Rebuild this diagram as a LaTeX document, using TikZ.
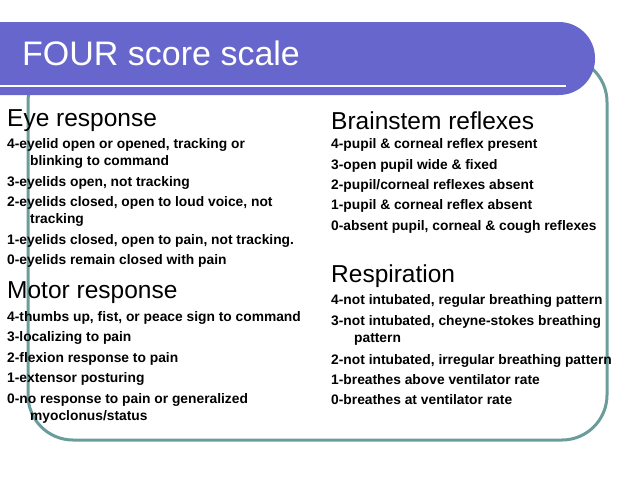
\documentclass[tikz,border=0pt]{standalone}
\usepackage{fontspec}
\setmainfont{Liberation Sans}
\definecolor{ban}{HTML}{6666CC}
\definecolor{teal2}{HTML}{6A9C9C}
\begin{document}
\begin{tikzpicture}[x=1pt,y=-1pt,
 head/.style={anchor=west,inner sep=0,font=\fontsize{24.5}{26}\selectfont},
 item/.style={anchor=north west,inner sep=0,font=\fontsize{13.8}{17}\selectfont\bfseries,align=left}]
\useasboundingbox (0,0) rectangle (638,479);
\draw[teal2,line width=3pt,rounded corners=45pt] (28,57) rectangle (607,440);
\fill[ban,rounded corners=36pt] (-40,22) rectangle (595,95);
\draw[white,line width=1.5pt] (0,86) -- (566,86);
\node[anchor=west,inner sep=0,text=white,font=\fontsize{34}{36}\selectfont] (t) at (22,53) {FOUR score scale};
\node[head] (h1) at (7,121) {Eye response};
\node[item] (e4) at (7,138) {4-eyelid open or opened, tracking or\\\hspace*{23pt}blinking to command};
\node[item] (e3) at (7,176) {3-eyelids open, not tracking};
\node[item] (e2) at (7,196) {2-eyelids closed, open to loud voice, not\\\hspace*{23pt}tracking};
\node[item] (e1) at (7,234) {1-eyelids closed, open to pain, not tracking.};
\node[item] (e0) at (7,254) {0-eyelids remain closed with pain};
\node[head] (h2) at (7,293) {Motor response};
\node[item] (m4) at (7,311) {4-thumbs up, fist, or peace sign to command};
\node[item] (m3) at (7,331) {3-localizing to pain};
\node[item] (m2) at (7,352) {2-flexion response to pain};
\node[item] (m1) at (7,372) {1-extensor posturing};
\node[item] (m0) at (7,393) {0-no response to pain or generalized\\\hspace*{23pt}myoclonus/status};
\node[head] (h3) at (331,121) {Brainstem reflexes};
\node[item] (b4) at (331,138) {4-pupil \& corneal reflex present};
\node[item] (b3) at (331,159) {3-open pupil wide \& fixed};
\node[item] (b2) at (331,179) {2-pupil/corneal reflexes absent};
\node[item] (b1) at (331,199) {1-pupil \& corneal reflex absent};
\node[item] (b0) at (331,220) {0-absent pupil, corneal \& cough reflexes};
\node[head] (h4) at (331,276) {Respiration};
\node[item] (r4) at (331,294) {4-not intubated, regular breathing pattern};
\node[item] (r3) at (331,315) {3-not intubated, cheyne-stokes breathing\\\hspace*{23pt}pattern};
\node[item] (r2) at (331,354) {2-not intubated, irregular breathing pattern};
\node[item] (r1) at (331,374) {1-breathes above ventilator rate};
\node[item] (r0) at (331,394) {0-breathes at ventilator rate};
\end{tikzpicture}
\end{document}
